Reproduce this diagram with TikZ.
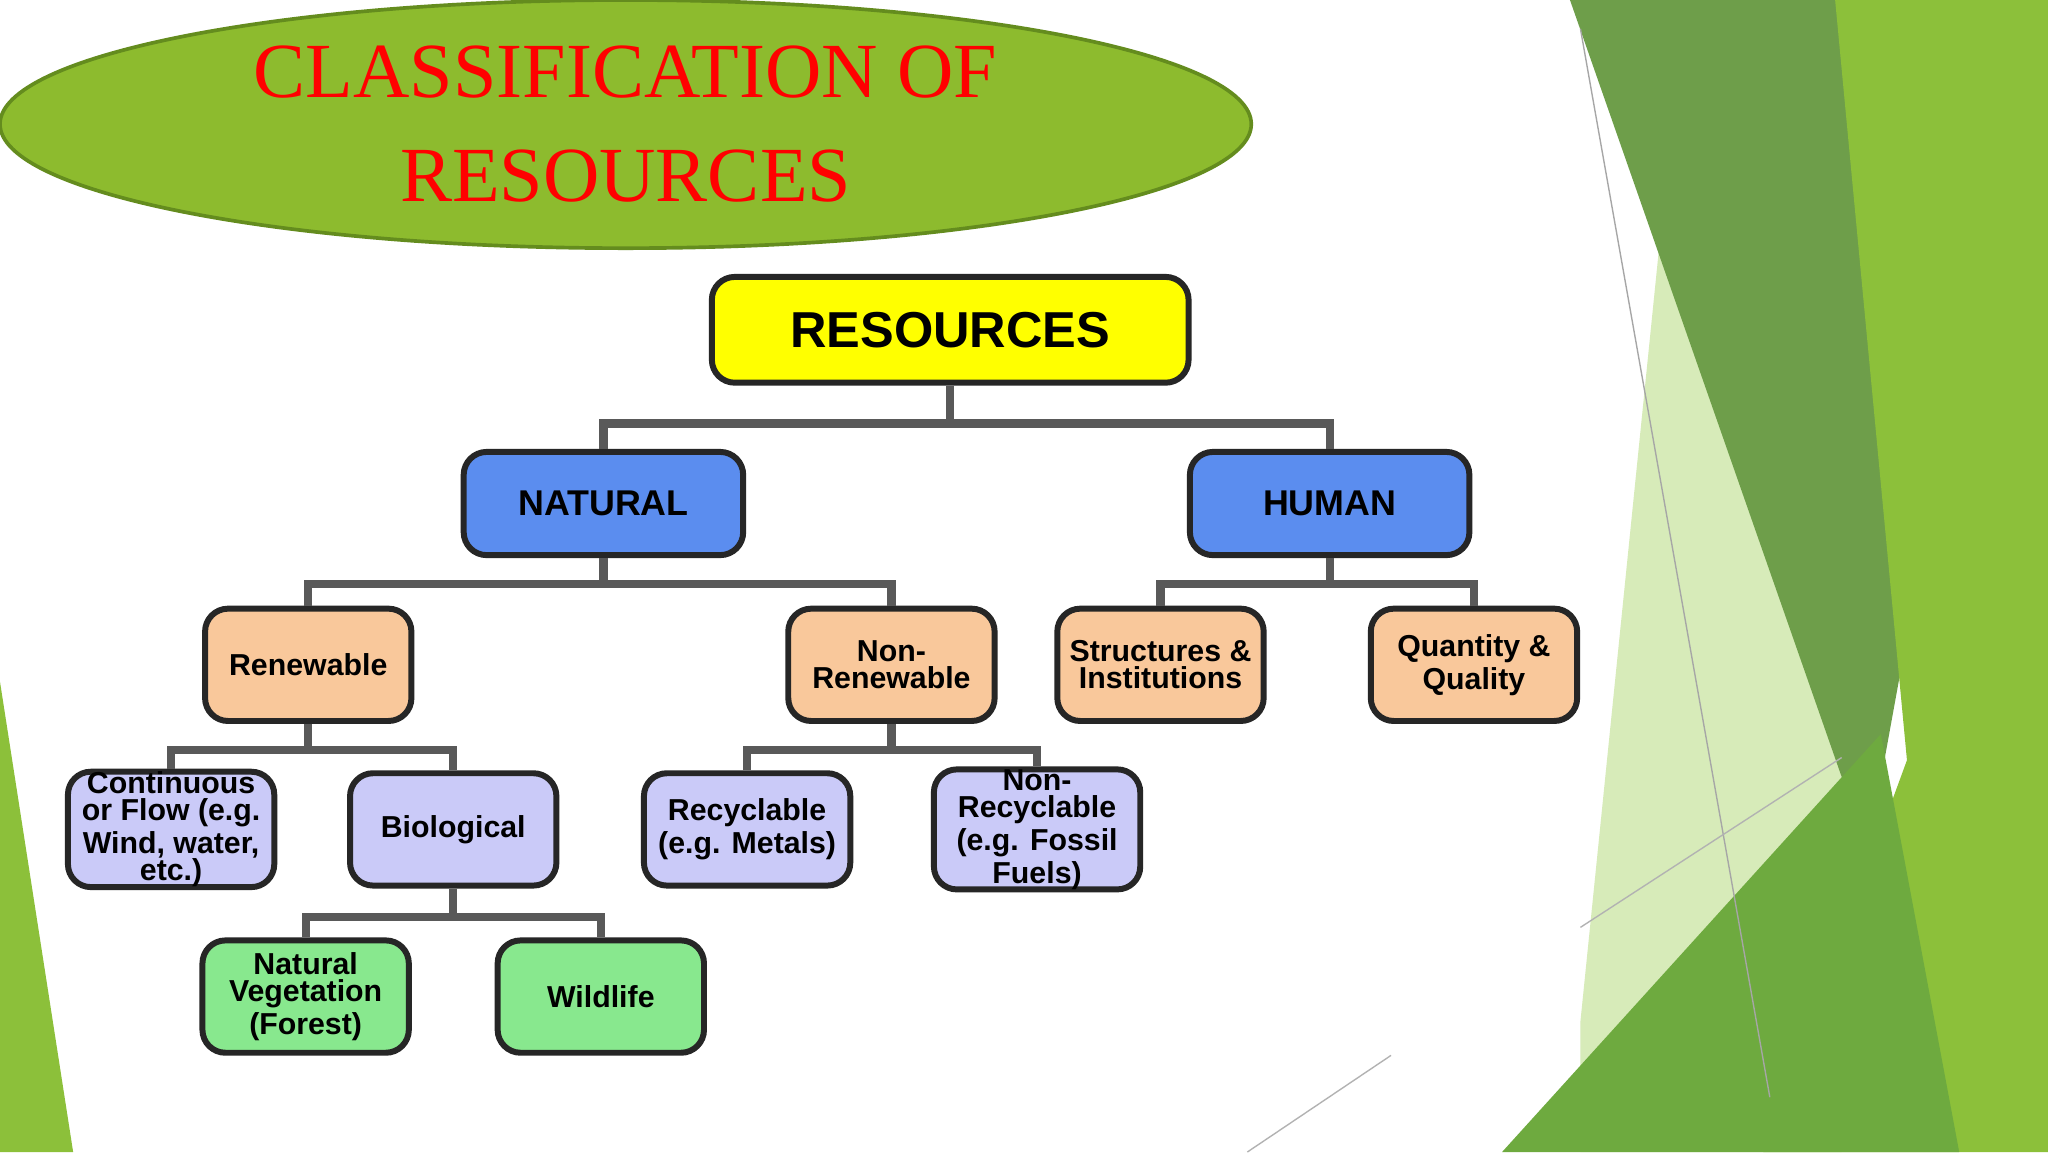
\documentclass[tikz,border=0pt]{standalone}
\usepackage{fontspec}
\usetikzlibrary{shapes.geometric}
\setmainfont{Liberation Serif}
\setsansfont{Liberation Sans}
\definecolor{titlegreen}{HTML}{8DBB2E}
\definecolor{ybox}{HTML}{FFFF00}
\definecolor{bbox}{HTML}{5B8DEF}
\definecolor{obox}{HTML}{F9C89B}
\definecolor{lbox}{HTML}{CACAF8}
\definecolor{gbox}{HTML}{88E88E}
\definecolor{bgA}{RGB}{110,158,74}
\definecolor{bgB}{RGB}{140,192,58}
\definecolor{bgD}{RGB}{110,170,63}
\definecolor{bgF}{RGB}{215,235,185}
\definecolor{titleedge}{RGB}{100,140,30}
\tikzset{
 bx/.style={draw=black!85,line width=1.3pt,rounded corners=5pt,font=\sffamily\bfseries\fontsize{6.6}{5.9}\selectfont,align=center,inner sep=0pt,minimum width=1.58cm,minimum height=0.86cm},
 conn/.style={draw=black!65,line width=1.8pt},
}
\begin{document}
\begin{tikzpicture}[x=1cm,y=1cm]
\useasboundingbox (0,0) rectangle (15.68,8.82);
\fill[white] (0,0) rectangle (15.68,8.82);
% background decoration
\fill[bgF] (12.7,6.9) -- (14.1,3.0) -- (14.1,0) -- (12.1,0) -- (12.1,1.0) -- cycle;
\fill[bgA] (12.02,8.82) -- (14.15,8.82) -- (14.7,4.5) -- (14.3,2.3) -- cycle;
\fill[bgB] (14.05,8.82) -- (15.68,8.82) -- (15.68,0) -- (13.5,0) -- (14.6,3.0) -- cycle;
\fill[bgD] (11.5,0) -- (14.4,3.2) -- (15.0,0) -- cycle;
\fill[bgB] (0,3.6) -- (0.56,0) -- (0,0) -- cycle;
\draw[black!35,line width=.3pt] (12.1,8.6) -- (13.55,0.42);
\draw[black!30,line width=.3pt] (12.1,1.72) -- (14.1,3.02);
\draw[black!30,line width=.3pt] (9.55,0) -- (10.65,0.74);
% title
\node[ellipse,draw=titleedge,line width=.8pt,fill=titlegreen,minimum width=9.58cm,minimum height=1.9cm,inner sep=0pt] (title) at (4.79,7.87) {};
\node[text=red,font=\fontsize{17}{22.5}\selectfont,align=center] (tt) at (4.79,7.87) {CLASSIFICATION OF\\RESOURCES};
% boxes
\node[bx,fill=ybox,minimum width=3.65cm,minimum height=0.81cm,font=\sffamily\bfseries\fontsize{11}{13}\selectfont] (res) at (7.275,6.295) {RESOURCES};
\node[bx,fill=bbox,minimum width=2.14cm,minimum height=0.79cm,font=\sffamily\bfseries\fontsize{7.8}{9}\selectfont] (nat) at (4.62,4.965) {NATURAL};
\node[bx,fill=bbox,minimum width=2.14cm,minimum height=0.79cm,font=\sffamily\bfseries\fontsize{7.8}{9}\selectfont] (hum) at (10.18,4.965) {HUMAN};
\node[bx,fill=obox] (ren) at (2.36,3.73) {Renewable};
\node[bx,fill=obox] (non) at (6.825,3.73) {Non-\\Renewable};
\node[bx,fill=obox] (str) at (8.885,3.73) {Structures \&\\Institutions};
\node[bx,fill=obox] (qua) at (11.285,3.73) {Quantity \&\\Quality};
\node[bx,fill=lbox] (con) at (1.31,2.47) {Continuous\\or Flow (e.g.\\Wind, water,\\etc.)};
\node[bx,fill=lbox] (bio) at (3.47,2.47) {Biological};
\node[bx,fill=lbox] (rec) at (5.72,2.47) {Recyclable\\(e.g. Metals)};
\node[bx,fill=lbox] (nrc) at (7.94,2.47) {Non-\\Recyclable\\(e.g. Fossil\\Fuels)};
\node[bx,fill=gbox] (veg) at (2.34,1.19) {Natural\\Vegetation\\(Forest)};
\node[bx,fill=gbox] (wil) at (4.6,1.19) {Wildlife};
% connectors
\draw[conn] (res.south) -- ++(0,-0.29) coordinate (j1);
\draw[conn] (nat.north) |- (j1) -| (hum.north);
\draw[conn] (nat.south) -- ++(0,-0.2) coordinate (j2);
\draw[conn] (ren.north) |- (j2) -| (non.north);
\draw[conn] (hum.south) -- ++(0,-0.2) coordinate (j3);
\draw[conn] (str.north) |- (j3) -| (qua.north);
\draw[conn] (ren.south) -- ++(0,-0.2) coordinate (j4);
\draw[conn] (con.north) |- (j4) -| (bio.north);
\draw[conn] (non.south) -- ++(0,-0.2) coordinate (j5);
\draw[conn] (rec.north) |- (j5) -| (nrc.north);
\draw[conn] (bio.south) -- ++(0,-0.22) coordinate (j6);
\draw[conn] (veg.north) |- (j6) -| (wil.north);
\end{tikzpicture}
\end{document}
